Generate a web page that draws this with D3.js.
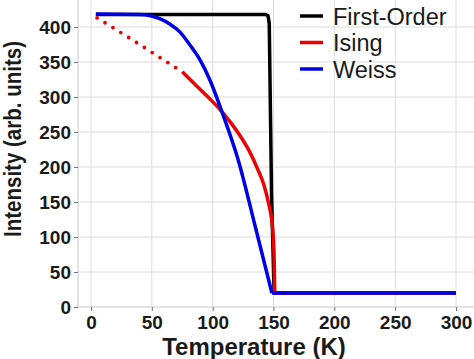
<!DOCTYPE html>
<html>
<head>
    <meta charset="utf-8">
    <title>Intensity vs Temperature</title>
    <script src="https://d3js.org/d3.v7.min.js"></script>
    <style>
        body { margin: 0; background: #fff; }
        text { font-family: "Liberation Sans", Arial, sans-serif; fill: #1a1a1a; }
    </style>
</head>
<body>
    <div id="chart"></div>

    <script>
        // tick values
        var tempTicks = [0, 50, 100, 150, 200, 250, 300];
        var intTicks = [0, 50, 100, 150, 200, 250, 300, 350, 400];

        // First-Order (black)
        var firstOrderT = [4, 143.5, 145.5, 146.5, 148.4, 150.5, 300];
        var firstOrderI = [418, 418, 416, 405, 160, 20, 20];

        // Ising (red): dotted low-T part, then solid
        var isingDotT = [5, 20, 40, 57, 75];
        var isingDotI = [413, 397, 375, 356, 336];
        var isingT = [75, 85, 95, 105, 115, 122, 130, 137, 142, 146, 148.5, 149.8, 150.6, 151, 300];
        var isingI = [336, 319, 302, 284, 263, 246, 223, 197, 175, 148, 125, 100, 65, 20, 20];

        // Weiss (blue)
        var weissT = [4, 40, 48, 57, 65, 73, 81, 89.6, 97.8, 107.6, 121, 135, 148.7, 300];
        var weissI = [418.5, 418, 416.5, 411.5, 404, 393, 375, 353, 324, 279, 210, 115, 20, 20];

        var legendNames = ["First-Order", "Ising", "Weiss"];
        var legendColors = ["#000000", "#ee0000", "#0000e6"];

        var W = 474, H = 359;
        var axisX = 78, axisY = 307;

        var svg = d3.select("#chart")
          .append("svg")
            .attr("width", W)
            .attr("height", H);

        var x = d3.scaleLinear().domain([0, 300]).range([91, 456]);
        var y = d3.scaleLinear().domain([0, 400]).range([307, 27]);

        function pts(ts, vs) {
            return ts.map(function(t, i) { return [t, vs[i]]; });
        }

        // grid
        svg.append("g").selectAll("line")
            .data(tempTicks)
          .enter().append("line")
            .attr("x1", function(d) { return x(d); })
            .attr("x2", function(d) { return x(d); })
            .attr("y1", 0)
            .attr("y2", axisY)
            .attr("stroke", "#dcdcdc")
            .attr("stroke-width", 1);

        svg.append("g").selectAll("line")
            .data(intTicks.slice(1))
          .enter().append("line")
            .attr("x1", axisX)
            .attr("x2", W)
            .attr("y1", function(d) { return y(d); })
            .attr("y2", function(d) { return y(d); })
            .attr("stroke", "#dcdcdc")
            .attr("stroke-width", 1);

        // axes
        var xAxis = svg.append("g")
            .attr("transform", "translate(0," + axisY + ")")
            .call(d3.axisBottom(x).tickValues(tempTicks).tickSize(4).tickPadding(5));
        xAxis.select(".domain").attr("d", "M" + axisX + ",0H" + W).attr("stroke", "#c8c8c8");

        var yAxis = svg.append("g")
            .attr("transform", "translate(" + axisX + ",0)")
            .call(d3.axisLeft(y).tickValues(intTicks).tickSize(4).tickPadding(3));
        yAxis.select(".domain").attr("d", "M0," + axisY + "V0").attr("stroke", "#c8c8c8");

        svg.selectAll(".tick line").attr("stroke", "#777");
        svg.selectAll(".tick text")
            .attr("fill", "#1a1a1a")
            .style("font-family", "'Liberation Sans', Arial, sans-serif")
            .style("font-weight", "bold")
            .style("font-size", "19px");

        // lines
        var straight = d3.line()
            .x(function(d) { return x(d[0]); })
            .y(function(d) { return y(d[1]); });
        var smooth = d3.line()
            .x(function(d) { return x(d[0]); })
            .y(function(d) { return y(d[1]); })
            .curve(d3.curveMonotoneX);

        // smooth part up to the corner, straight flat tail after it
        function drawSeries(data, color) {
            var n = data.length;
            svg.append("path")
                .attr("d", smooth(data.slice(0, n - 1)))
                .attr("fill", "none")
                .attr("stroke", color)
                .attr("stroke-width", 3.5);
            svg.append("path")
                .attr("d", straight(data.slice(n - 2)))
                .attr("fill", "none")
                .attr("stroke", color)
                .attr("stroke-width", 3.5);
        }

        svg.append("path")
            .attr("d", straight(pts(firstOrderT, firstOrderI)))
            .attr("fill", "none")
            .attr("stroke", legendColors[0])
            .attr("stroke-width", 3.5)
            .attr("stroke-linejoin", "round");

        svg.append("path")
            .attr("d", smooth(pts(isingDotT, isingDotI)))
            .attr("fill", "none")
            .attr("stroke", legendColors[1])
            .attr("stroke-width", 3.8)
            .attr("stroke-linecap", "round")
            .attr("stroke-dasharray", "0,9.3");
        drawSeries(pts(isingT, isingI), legendColors[1]);

        drawSeries(pts(weissT, weissI), legendColors[2]);

        // legend
        var legend = svg.append("g").selectAll("g")
            .data(legendNames)
          .enter().append("g")
            .attr("transform", function(d, i) { return "translate(300," + (16 + i * 26.5) + ")"; });
        legend.append("line")
            .attr("x1", 0).attr("x2", 23)
            .attr("stroke", function(d, i) { return legendColors[i]; })
            .attr("stroke-width", 3.5);
        legend.append("text")
            .attr("x", 33)
            .attr("y", 8.5)
            .style("font-size", "23.5px")
            .text(function(d) { return d; });

        // axis titles
        svg.append("text")
            .attr("x", 254)
            .attr("y", 355)
            .style("text-anchor", "middle")
            .style("font-weight", "bold")
            .style("font-size", "24px")
            .text("Temperature (K)");

        svg.append("text")
            .attr("transform", "translate(21,139) rotate(-90)")
            .style("text-anchor", "middle")
            .style("font-weight", "bold")
            .style("font-size", "24px")
            .attr("textLength", 196)
            .attr("lengthAdjust", "spacingAndGlyphs")
            .text("Intensity (arb. units)");
    </script>
</body>
</html>
